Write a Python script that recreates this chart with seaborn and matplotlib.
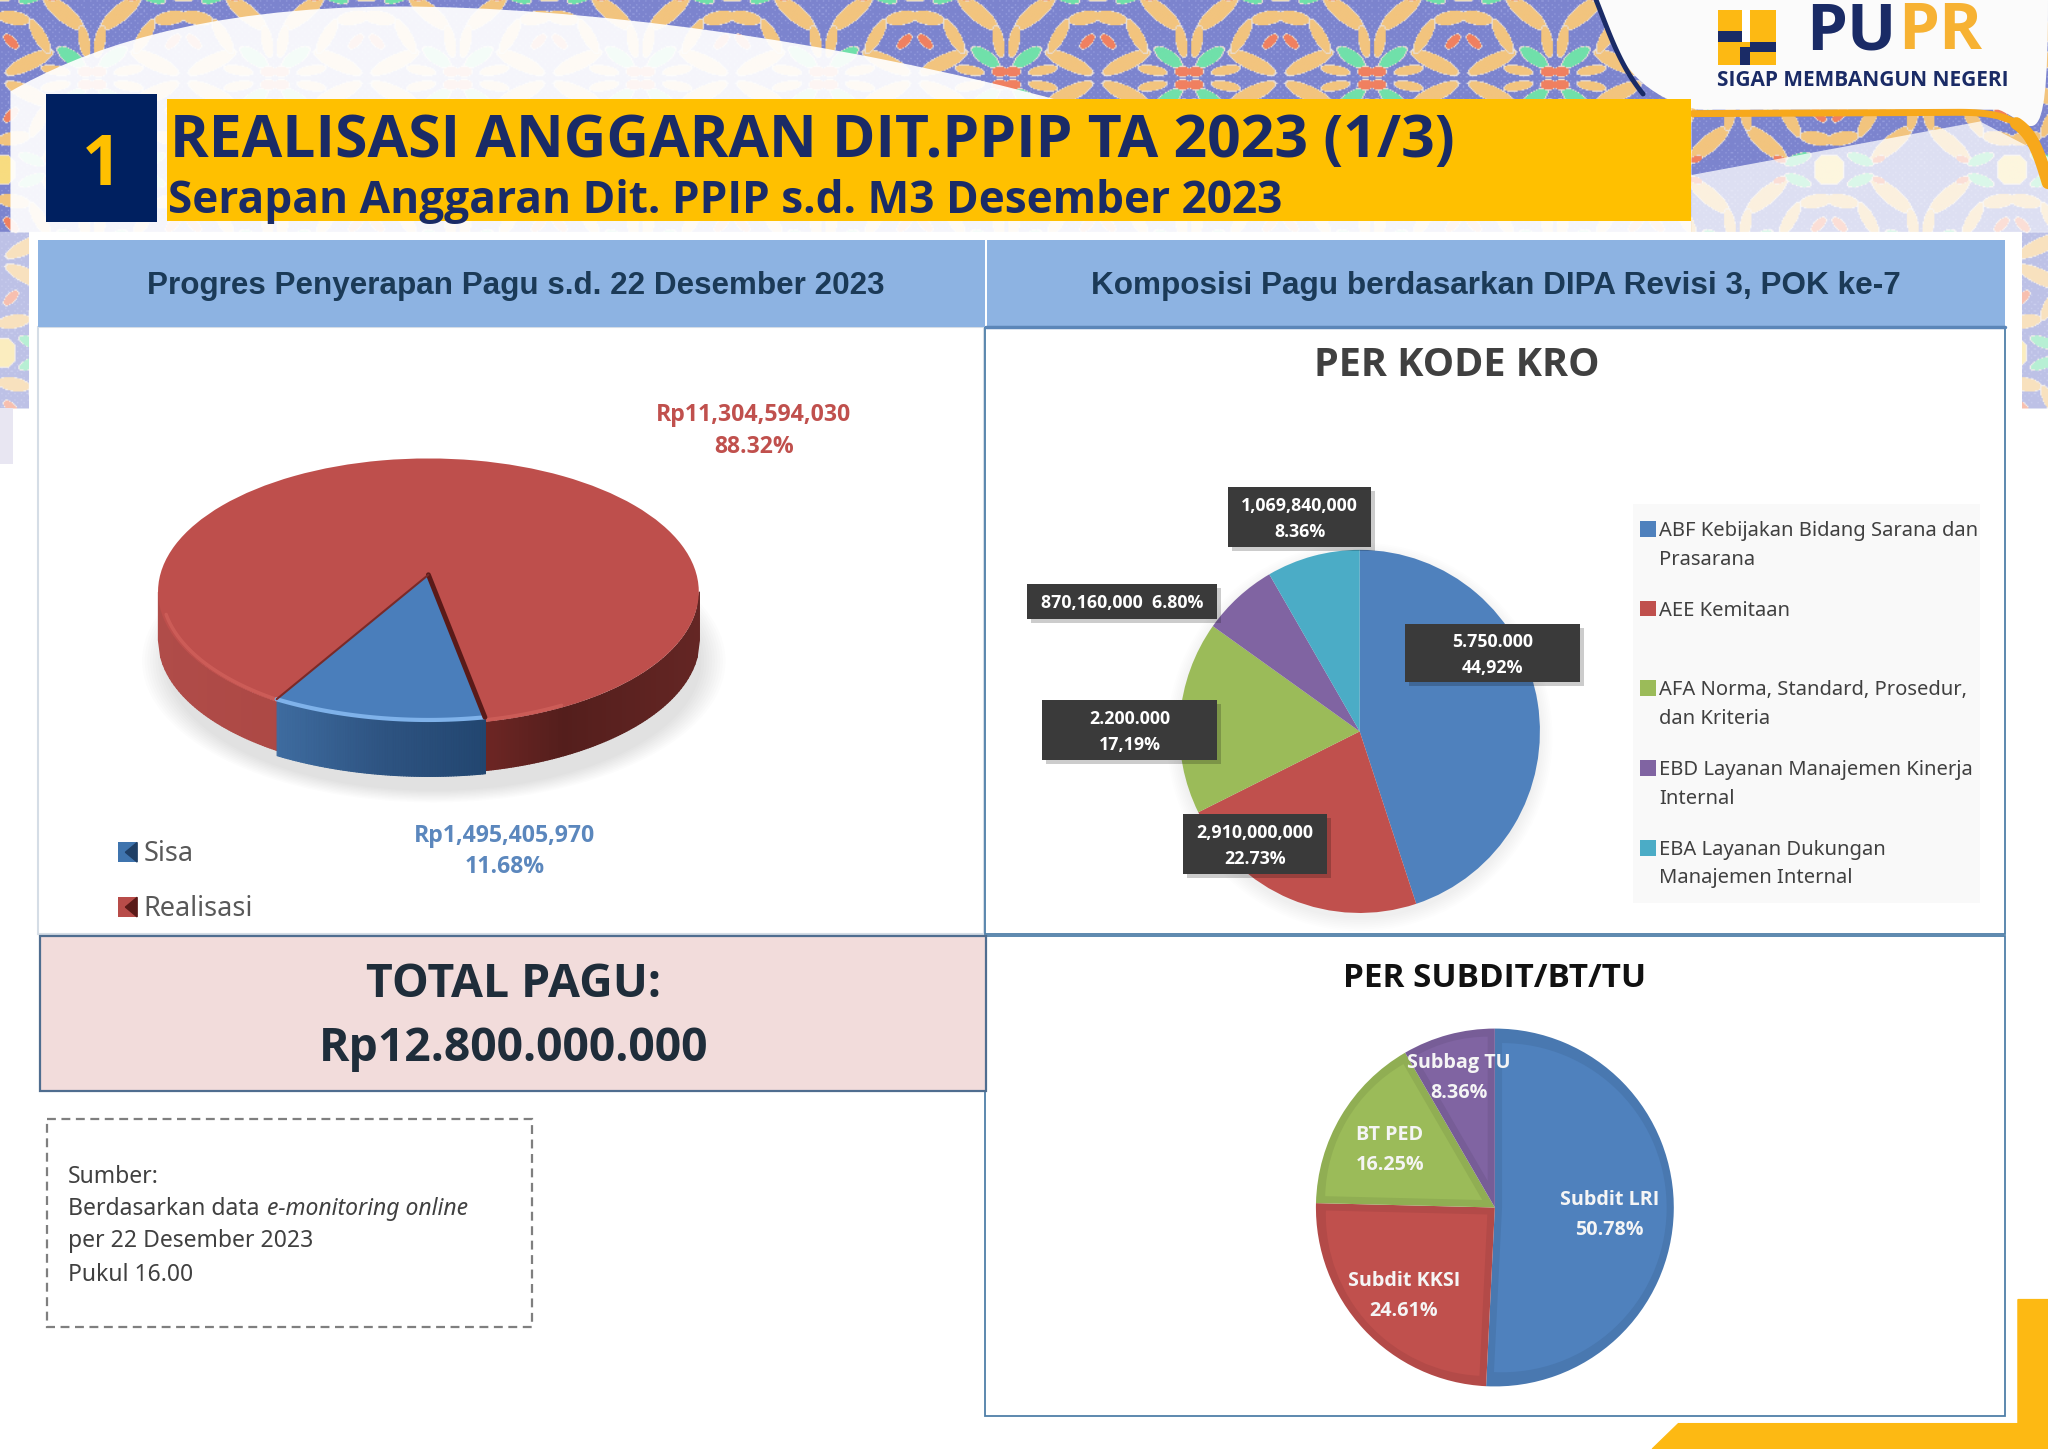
import numpy as np
import matplotlib
matplotlib.use("Agg")
import matplotlib.pyplot as plt
import matplotlib.patheffects as pe
from matplotlib import font_manager as fm
import seaborn as sns
from matplotlib.patches import Rectangle, PathPatch, Ellipse, Wedge
from matplotlib.path import Path

# ---------- data ----------
serapan_labels = ["Sisa", "Realisasi"]
serapan_values = [1495405970, 11304594030]
serapan_amounts = ["Rp1,495,405,970", "Rp11,304,594,030"]
serapan_pct = ["11.68%", "88.32%"]

kro_legend = [
    "ABF Kebijakan Bidang Sarana dan\nPrasarana",
    "AEE Kemitaan",
    "AFA Norma, Standard, Prosedur,\ndan Kriteria",
    "EBD Layanan Manajemen Kinerja\nInternal",
    "EBA Layanan Dukungan\nManajemen Internal",
]
kro_values = [5750000000, 2910000000, 2200000000, 870160000, 1069840000]
kro_labels = [
    ["5.750.000", "44,92%"],
    ["2,910,000,000", "22.73%"],
    ["2.200.000", "17,19%"],
    ["870,160,000  6.80%"],
    ["1,069,840,000", "8.36%"],
]

subdit_names = ["Subdit LRI", "Subdit KKSI", "BT PED", "Subbag TU"]
subdit_values = [50.78, 24.61, 16.25, 8.36]
subdit_pct = ["50.78%", "24.61%", "16.25%", "8.36%"]

title_main = "REALISASI ANGGARAN DIT.PPIP TA 2023 (1/3)"
title_sub = "Serapan Anggaran Dit. PPIP s.d. M3 Desember 2023"
header_left = "Progres Penyerapan Pagu s.d. 22 Desember 2023"
header_right = "Komposisi Pagu berdasarkan DIPA Revisi 3, POK ke-7"

# ---------- style ----------
sns.set_theme(style="white")
plt.rcParams["font.family"] = ["Noto Sans", "DejaVu Sans"]
palette = sns.color_palette(["#4F81BD", "#C0504D", "#9BBB59", "#8064A2", "#4BACC6"])
NAVY = "#1A2B66"
GOLD = "#FFC000"


def has_bold(fam):
    return any(f.name == fam and f.weight in (600, 700, 800, "bold", "semibold") for f in fm.fontManager.ttflist)


BOLD_FAM = next((f for f in ["Noto Sans", "Open Sans", "Lato", "Roboto", "Inter"] if has_bold(f)), None)

W, H = 1568, 1109.4
fig = plt.figure(figsize=(20.48, 14.49), dpi=100, facecolor="white")
renderer = fig.canvas.get_renderer()


def axes_box(x0, y0, x1, y1, z):
    return fig.add_axes([x0 / W, 1 - y1 / H, (x1 - x0) / W, (y1 - y0) / H], zorder=z)


def fit(t, width):
    """Scale a text so its drawn width equals `width` (in layout units)."""
    w = t.get_window_extent(renderer).width * W / 2048
    t.set_fontsize(t.get_fontsize() * width / w)
    return t


def btext(ax, x, y, s, color, size=14, width=None, ha="center", va="center", family=None, z=6):
    fam = family or BOLD_FAM or "Noto Sans"
    t = ax.text(x, y, s, color=color, fontsize=size, fontweight="bold", family=fam, ha=ha, va=va, zorder=z)
    if width:
        fit(t, width)
    if family is None and BOLD_FAM is None:
        t.set_path_effects([pe.withStroke(linewidth=t.get_fontsize() * 0.05, foreground=color)])
    return t


bg = axes_box(0, 0, W, H, 0)
bg.set_xlim(0, W); bg.set_ylim(H, 0); bg.axis("off")


# ---------- batik background ----------
def batik():
    X, Y = np.meshgrid(np.arange(1568) + 0.0, np.arange(360) + 0.0)
    U = np.abs((X % 140) - 70)
    V = np.abs(((Y + 10) % 140) - 70)
    img = np.ones(X.shape + (3,)) * np.array([124, 132, 206]) / 255
    img[(np.sin(X * 1.3) * np.sin(Y * 1.3)) > 0.75] = np.array([150, 158, 222]) / 255

    def blob(cx, cy, a, b, rot, col, outline=(232, 222, 214)):
        c, s = np.cos(np.radians(rot)), np.sin(np.radians(rot))
        du, dv = U - cx, V - cy
        e = ((du * c + dv * s) / a) ** 2 + ((-du * s + dv * c) / b) ** 2
        img[e < 1.2] = np.array(outline) / 255
        img[e < 1] = np.array(col) / 255

    orange, mint, coral, cream = (242, 196, 126), (112, 224, 170), (240, 128, 96), (248, 220, 128)
    for p in [(48, 12, 19, 5.5, -25), (22, 50, 19, 6, 40), (40, 32, 14, 4.5, 60), (60, 46, 12, 5, 10),
              (6, 28, 12, 4, 80), (28, 6, 11, 3.5, 10)]:
        blob(*p, orange)
    for p in [(16, 16, 12, 5, 35), (46, 62, 10, 4, -20)]:
        blob(*p, mint)
    for p in [(62, 28, 7, 3.5, 45), (5, 5, 6, 4, 0), (32, 62, 5, 2.5, 20)]:
        blob(*p, coral)
    blob(68, 68, 9, 9, 0, cream)
    a = np.where(Y < 178, 1.0, 0.5)[..., None]
    out = img * a + (1 - a)
    out[Y > 312] = 1
    return out


bg.imshow(batik(), extent=(0, 1568, 360, 0), aspect="auto", interpolation="bilinear", zorder=0)
bg.set_xlim(0, W); bg.set_ylim(H, 0)

# pale strip end below the left band
bg.add_patch(Rectangle((0, 312), 10, 43, fc="#E8E6F2", ec="none", zorder=0.5))

# white hill behind the title
hill = Path(
    [(8, 178), (8, 70), (60, 40), (150, 5), (306, 5), (440, 5), (640, 30), (815, 78),
     (1295, 78), (1295, 178), (8, 178)],
    [Path.MOVETO, Path.LINETO, Path.CURVE4, Path.CURVE4, Path.CURVE4, Path.CURVE4,
     Path.CURVE4, Path.CURVE4, Path.LINETO, Path.LINETO, Path.CLOSEPOLY],
)
bg.add_patch(PathPatch(hill, fc="white", ec="none", alpha=0.93, zorder=1))

# pale wedge under the saturated band on the right
bg.fill([1295, 1516, 1568, 1568, 1295], [134, 93, 120, 178, 178], color="white", alpha=0.75, lw=0, zorder=1)

# white logo corner
corner = Path(
    [(1222, 0), (1235, 40), (1250, 72), (1300, 84), (1400, 84), (1530, 84), (1555, 92), (1568, 134),
     (1568, 0), (1222, 0)],
    [Path.MOVETO, Path.CURVE4, Path.CURVE4, Path.CURVE4, Path.LINETO, Path.LINETO, Path.CURVE4,
     Path.CURVE4, Path.LINETO, Path.CLOSEPOLY],
)
bg.add_patch(PathPatch(corner, fc="#FBFBFB", ec="none", zorder=1))
t = np.linspace(0, 1, 60)
cx = (1 - t) ** 3 * 1222 + 3 * (1 - t) ** 2 * t * 1232 + 3 * (1 - t) * t ** 2 * 1240 + t ** 3 * 1258
cy = 3 * (1 - t) ** 2 * t * 25 + 3 * (1 - t) * t ** 2 * 50 + t ** 3 * 72
bg.plot(cx, cy, color=NAVY, lw=3.5, zorder=2)
ox = (1 - t) ** 3 * 1500 + 3 * (1 - t) ** 2 * t * 1550 + 3 * (1 - t) * t ** 2 * 1556 + t ** 3 * 1568
oy = (1 - t) ** 3 * 86 + 3 * (1 - t) ** 2 * t * 86 + 3 * (1 - t) * t ** 2 * 100 + t ** 3 * 140
bg.plot(np.r_[1296, ox[:30]], np.r_[87, oy[:30]], color="#F7A81B", lw=5, zorder=2, solid_capstyle="round")
bg.plot(ox[25:], oy[25:], color="#F7A81B", lw=9, zorder=2, solid_capstyle="round")

# white card behind panels
bg.add_patch(Rectangle((22, 178), 1526, H - 178, fc="white", ec="none", zorder=1))
# corner accent bottom right
bg.fill([1265, 1285, 1545, 1545, 1568, 1568], [H, 1090, 1090, 995, 995, H], color="#FDB913", zorder=2)

# ---------- title ----------
bg.add_patch(Rectangle((128, 76), 1167, 93, fc=GOLD, ec="none", zorder=3))
bg.add_patch(Rectangle((35, 72), 85, 98, fc="#002060", ec="none", zorder=3))
btext(bg, 78, 128, "1", GOLD, size=50)
btext(bg, 130, 108, title_main, NAVY, size=38, width=985, ha="left")
btext(bg, 129, 154, title_sub, NAVY, size=27, width=852, ha="left")

# ---------- logo ----------
bg.add_patch(Rectangle((1315, 8), 45, 42, fc="#FDB913", ec="none", zorder=3))
bg.add_patch(Rectangle((1334, 8), 6, 24, fc="white", ec="none", zorder=4))
bg.add_patch(Rectangle((1315, 24), 19, 8, fc=NAVY, ec="none", zorder=4))
bg.add_patch(Rectangle((1340, 32), 20, 8, fc=NAVY, ec="none", zorder=4))
bg.add_patch(Rectangle((1332, 36), 8, 14, fc=NAVY, ec="none", zorder=4))
btext(bg, 1452, 25, "PU", NAVY, size=47, ha="right")
btext(bg, 1453, 25, "PR", "#F7B233", size=47, ha="left")
btext(bg, 1426, 62, "SIGAP MEMBANGUN NEGERI", NAVY, size=14, width=225)

# ---------- panels ----------
bg.add_patch(Rectangle((29, 184), 725, 66, fc="#8DB3E2", ec="none", zorder=3))
bg.add_patch(Rectangle((756, 184), 779, 66, fc="#8DB3E2", ec="none", zorder=3))
bg.plot([755, 1535], [250, 250], color="#5B86B8", lw=2.5, zorder=4)
for x, s, wd in [(395, header_left, 564), (1145.5, header_right, 619)]:
    btext(bg, x, 219, s, "#1B3A57", size=21, width=wd, family="Liberation Sans")
bg.add_patch(Rectangle((29, 250), 724, 465, fc="white", ec="#D5DDE6", lw=1.5, zorder=2))
bg.add_patch(Rectangle((754, 250), 781, 465, fc="white", ec="#4F7FA8", lw=1.3, zorder=2))
bg.add_patch(Rectangle((754, 717), 781, 367, fc="white", ec="#4F7FA8", lw=1.3, zorder=2))
bg.add_patch(Rectangle((31, 717), 724, 118, fc="#F2DCDB", ec="#4F6D8F", lw=1.6, zorder=3))
btext(bg, 393, 754, "TOTAL PAGU:", "#1F2D3A", size=28, width=226)
btext(bg, 393, 803, "Rp12.800.000.000", "#1F2D3A", size=28, width=298)
btext(bg, 1115, 280, "PER KODE KRO", "#404040", size=24, width=220)
btext(bg, 1144, 749, "PER SUBDIT/BT/TU", "#111111", size=21, width=232)

# source note
bg.add_patch(Rectangle((36, 857), 371, 159, fc="white", ec="#7F7F7F", lw=1.6, ls=(0, (4, 2.5)), zorder=3))
note_color = "#404040"
NOTE_FS = 16.5
bg.text(52, 901, "Sumber:", color=note_color, fontsize=NOTE_FS, ha="left", va="center", zorder=4)
plain = bg.text(52, 926, "Berdasarkan data", color=note_color, fontsize=NOTE_FS, ha="left", va="center", zorder=4)
px_width = plain.get_window_extent(renderer).width * W / 2048
bg.text(52 + px_width + 5.5, 926, "e-monitoring online", color=note_color, fontsize=NOTE_FS, style="italic",
        ha="left", va="center", zorder=4)
bg.text(52, 950, "per 22 Desember 2023", color=note_color, fontsize=NOTE_FS, ha="left", va="center", zorder=4)
bg.text(52, 976, "Pukul 16.00", color=note_color, fontsize=NOTE_FS, ha="left", va="center", zorder=4)


# ---------- pie helpers ----------
def pie_axes(cx_, cy_, rx, ry, pad=1.3, z=2):
    ax = axes_box(cx_ - rx * pad, cy_ - ry * pad, cx_ + rx * pad, cy_ + ry * pad, z)
    ax.patch.set_alpha(0)
    return ax


def finish(ax, pad=1.3):
    ax.set_aspect("auto")
    ax.set_xlim(-pad, pad); ax.set_ylim(-pad, pad)
    ax.axis("off")


def soft_shadow(ax, cx_, cy_, w, h, steps=10, alpha=0.012):
    for k in range(steps):
        ax.add_patch(Ellipse((cx_, cy_), w * (1 + 0.01 * k), h * (1 + 0.01 * k), fc="black",
                             ec="none", alpha=alpha, zorder=0))


# ---------- pie 1: faux 3D ----------
ax1 = pie_axes(328, 453, 207, 102, pad=1.6)
RED_SIDE = np.array([[176, 76, 73], [172, 72, 68], [128, 44, 42], [84, 30, 28], [100, 38, 36]]) / 255
BLUE_SIDE = np.array([[62, 108, 160], [46, 84, 130], [34, 70, 112]]) / 255
soft_shadow(ax1, 0.02, -0.52, 1.98, 1.95)
start = 239
ax1.pie(serapan_values, colors=[palette[0], "#BE4F4C"], startangle=start, radius=1.0,
        wedgeprops={"zorder": 2, "linewidth": 0})
xs = np.linspace(-1, 1, 240)
for a, b in zip(xs[:-1], xs[1:]):
    m = (a + b) / 2
    col = [np.interp(m, np.linspace(-1, 1, 5), RED_SIDE[:, c]) for c in range(3)]
    top_a, top_b = -np.sqrt(1 - a ** 2), -np.sqrt(1 - b ** 2)
    ax1.fill_between([a, b], [top_a, top_b], [top_a - 0.36, top_b - 0.36], color=col, lw=1, zorder=1)
# rim highlight on the red disc
ang = np.radians(np.linspace(190, 300, 120))
ax1.plot(np.cos(ang) * 0.985, np.sin(ang) * 0.985, color="#D0605B", lw=2.5, zorder=2.5, alpha=0.8)

# exploded blue slice
R_b, cy_b = 1.09, 0.127
span = 360 * serapan_values[0] / sum(serapan_values)
ax1.add_patch(Wedge((0, cy_b), R_b, start, start + span, fc="#4A7EBB", ec="none", zorder=4))
bl, br = np.cos(np.radians(start)) * R_b, np.cos(np.radians(start + span)) * R_b
xb = np.linspace(bl, br, 80)
for a, b in zip(xb[:-1], xb[1:]):
    m = (a + b) / 2
    col = [np.interp(m, np.linspace(bl, br, 3), BLUE_SIDE[:, c]) for c in range(3)]
    ta = cy_b - np.sqrt(R_b ** 2 - a ** 2); tb = cy_b - np.sqrt(R_b ** 2 - b ** 2)
    ax1.fill_between([a, b], [ta, tb], [ta - 0.42, tb - 0.42], color=col, lw=0.8, zorder=3)
arc = np.radians(np.linspace(start, start + span, 60))
ax1.plot(np.cos(arc) * R_b, cy_b + np.sin(arc) * R_b, color="#7FB2EA", lw=3, zorder=5)
ax1.plot([0, br], [cy_b, cy_b + np.sin(np.radians(start + span)) * R_b], color="#5A1A18", lw=3.5, zorder=5)
ax1.plot([0, bl], [cy_b, cy_b + np.sin(np.radians(start)) * R_b], color="#7A2A28", lw=1.5, zorder=5)
finish(ax1, 1.6)

# ---------- pie 2: KRO ----------
ax2 = pie_axes(1041, 560, 138, 139)
soft_shadow(ax2, 0.0, -0.03, 2.0, 2.0, steps=8, alpha=0.008)
ax2.pie(kro_values, colors=palette, startangle=90, counterclock=False, radius=1.0,
        wedgeprops={"linewidth": 0, "zorder": 2})
finish(ax2)

# ---------- pie 3: Subdit ----------
ax3 = pie_axes(1144.5, 924.5, 137, 137)
sub_cols = list(palette[:4])
edge_cols = [tuple(np.array(c) * 0.93) for c in sub_cols]
wedges, _ = ax3.pie(subdit_values, colors=edge_cols, startangle=90, counterclock=False, radius=1.0,
                    wedgeprops={"linewidth": 0, "zorder": 2})
INSET = 0.04
for w_, col in zip(wedges, sub_cols):
    half = np.radians((w_.theta2 - w_.theta1) / 2)
    mid = np.radians((w_.theta1 + w_.theta2) / 2)
    d = INSET / max(np.sin(half), 0.15)
    ax3.add_patch(Wedge((d * np.cos(mid), d * np.sin(mid)), 1 - d - INSET, w_.theta1, w_.theta2,
                        fc=col, ec="none", zorder=3))
finish(ax3)

# ---------- overlay: labels ----------
ov = axes_box(0, 0, W, H, 5)
ov.set_xlim(0, W); ov.set_ylim(H, 0); ov.axis("off"); ov.patch.set_alpha(0)

# left pie labels and legend
RED_T, BLUE_T = "#C0504D", "#5B87BD"
btext(ov, 577, 318, serapan_amounts[1], RED_T, size=15.5, width=150)
btext(ov, 577, 342, serapan_pct[1], RED_T, size=15.5, width=61)
btext(ov, 386, 640, serapan_amounts[0], BLUE_T, size=15.5, width=139)
btext(ov, 386, 664, serapan_pct[0], BLUE_T, size=15.5, width=61)
for y, name, light, dark in [(652, serapan_labels[0], "#3F74AE", "#1F3F66"),
                             (694, serapan_labels[1], "#B84C49", "#5A1A18")]:
    ov.add_patch(Rectangle((90, y - 7), 15, 15, fc=light, ec="none"))
    ov.fill([105, 105, 96], [y - 7, y + 8, y + 0.5], color=dark)
    ov.text(110, y + 2, name, color="#595959", fontsize=19.5, ha="left", va="center")

# KRO data labels
KRO_FS = 12.8
box_xy = [(1076, 478, 134, 44), (906, 623, 110, 46), (798, 536, 134, 46), (786, 447, 146, 27), (940, 373, 110, 46)]
for (bx, by, bw, bh), lines in zip(box_xy, kro_labels):
    ov.add_patch(Rectangle((bx + 3, by + 3), bw, bh, fc="black", ec="none", alpha=0.2))
    ov.add_patch(Rectangle((bx, by), bw, bh, fc="#3A3A3A", ec="none"))
    ym = by + bh / 2 + 1.5
    offs = [0] if len(lines) == 1 else [-10, 10]
    for off, s in zip(offs, lines):
        btext(ov, bx + bw / 2, ym + off, s, "white", size=KRO_FS)

# KRO legend
ov.add_patch(Rectangle((1250, 386), 266, 305, fc="#F9F9F9", ec="none"))
for i, (label, col) in enumerate(zip(kro_legend, palette)):
    y = 405 + 61 * i
    ov.add_patch(Rectangle((1256, y - 6), 12, 12, fc=col, ec="none"))
    for j, line in enumerate(label.split("\n")):
        ov.text(1270, y + 1.5 + 22 * j, line, color="#404040", fontsize=14.5, ha="left", va="center")

# Subdit labels
pos = [(1232, 928), (1075, 990), (1064, 878), (1117, 823)]
for (x, y), nm, pc in zip(pos, subdit_names, subdit_pct):
    btext(ov, x, y - 9, nm, "#F5F5F5", size=14.2)
    btext(ov, x, y + 14, pc, "#F5F5F5", size=14.2)

fig.savefig("out.png", dpi=100, facecolor="white")
